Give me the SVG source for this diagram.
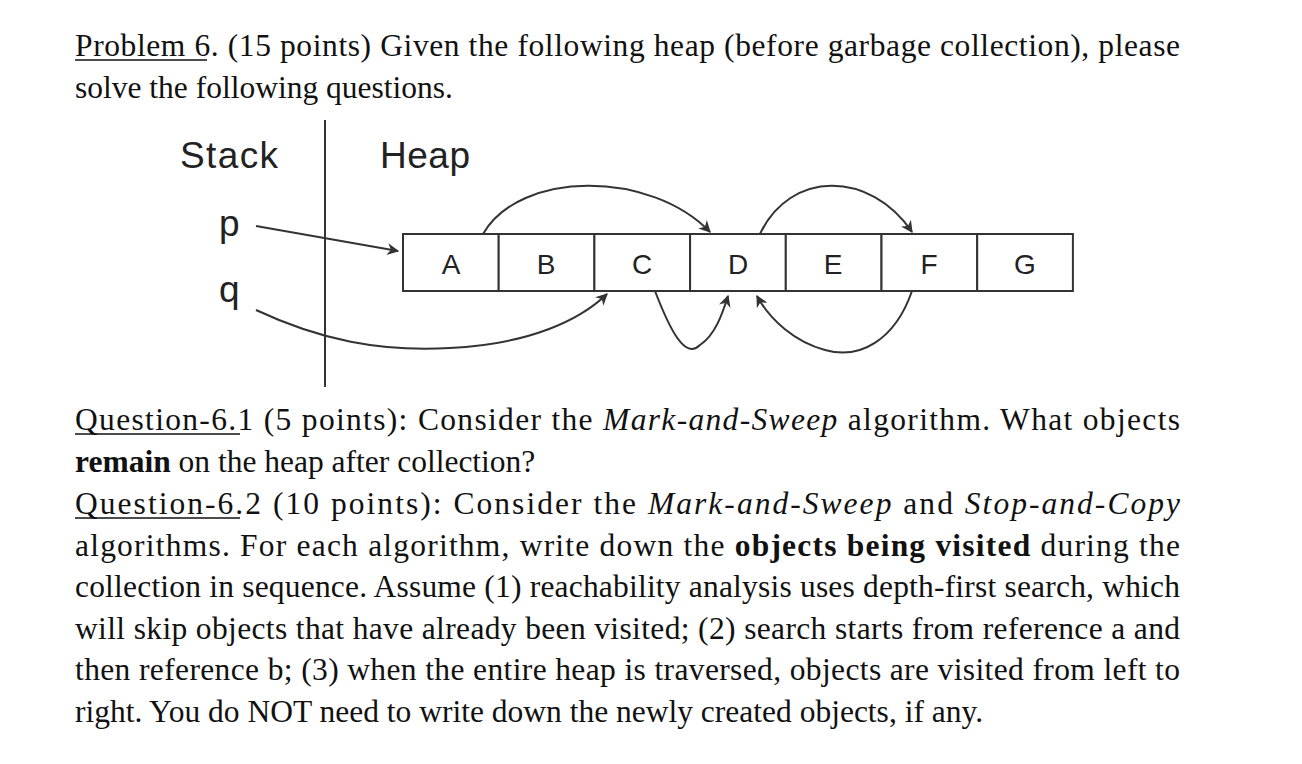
<svg xmlns="http://www.w3.org/2000/svg" width="1302" height="764" viewBox="0 0 1302 764">
<style>
.t{font-family:"Liberation Serif",serif;font-size:31.5px;fill:#111}
.s{font-family:"Liberation Sans",Arial,sans-serif;fill:#222}
.c{fill:#fff;stroke:#333;stroke-width:2}
.l{fill:none;stroke:#333;stroke-width:2}
.u{stroke:#111;stroke-width:1.5}
</style>
<defs><marker id="a" viewBox="0 0 10 10" refX="9" refY="5" markerWidth="14" markerHeight="12" orient="auto" markerUnits="userSpaceOnUse"><path d="M0,0L10,5L0,10L3,5z" fill="#333"/></marker></defs>
<rect width="1302" height="764" fill="#fff"/>
<text class="t" x="75" y="56" textLength="1105" lengthAdjust="spacing">Problem 6. (15 points) Given the following heap (before garbage collection), please</text>
<line class="u" x1="75" y1="60" x2="207" y2="60"/>
<text class="t" x="75" y="98">solve the following questions.</text>
<g id="stack"><text class="s" x="180" y="168" font-size="37" textLength="98">Stack</text>
<text class="s" x="219" y="236" font-size="37">p</text><text class="s" x="219" y="302" font-size="37">q</text></g>
<line class="l" x1="325" y1="120" x2="325" y2="387"/>
<text class="s" x="380" y="168" font-size="37" textLength="90">Heap</text>
<g id="heap" font-size="28">
<g id="A"><rect class="c" x="403" y="234" width="95.7" height="57"/><text class="s" x="451" y="274" text-anchor="middle">A</text></g>
<g id="B"><rect class="c" x="498.7" y="234" width="95.7" height="57"/><text class="s" x="546" y="274" text-anchor="middle">B</text></g>
<g id="C"><rect class="c" x="594.4" y="234" width="95.7" height="57"/><text class="s" x="642" y="274" text-anchor="middle">C</text></g>
<g id="D"><rect class="c" x="690.1" y="234" width="95.7" height="57"/><text class="s" x="738" y="274" text-anchor="middle">D</text></g>
<g id="E"><rect class="c" x="785.8" y="234" width="95.7" height="57"/><text class="s" x="833" y="274" text-anchor="middle">E</text></g>
<g id="F"><rect class="c" x="881.5" y="234" width="95.7" height="57"/><text class="s" x="929" y="274" text-anchor="middle">F</text></g>
<g id="G"><rect class="c" x="977.2" y="234" width="95.7" height="57"/><text class="s" x="1025" y="274" text-anchor="middle">G</text></g>
</g>
<g id="connectors" class="l">
<path class="l" d="M256,226 L398,251" marker-end="url(#a)"/>
<path class="l" d="M256,310 C320,340 380,352 450,348 C530,344 580,320 607,294" marker-end="url(#a)"/>
<path class="l" d="M483,234 C520,170 650,170 710,232" marker-end="url(#a)"/>
<path class="l" d="M760,234 C790,170 870,170 912,232" marker-end="url(#a)"/>
<path class="l" d="M655,291 C670,330 685,360 700,345 C715,335 722,315 728,296" marker-end="url(#a)"/>
<path class="l" d="M912,291 C895,340 860,360 825,350 C795,342 770,320 757,296" marker-end="url(#a)"/>
</g>
<text class="t" x="75" y="430" textLength="1105" lengthAdjust="spacing">Question-6.1 (5 points): Consider the <tspan font-style="italic">Mark-and-Sweep</tspan> algorithm. What objects</text>
<line class="u" x1="75" y1="434" x2="240" y2="434"/>
<text class="t" x="75" y="472"><tspan font-weight="bold">remain</tspan> on the heap after collection?</text>
<text class="t" x="75" y="514" textLength="1105" lengthAdjust="spacing">Question-6.2 (10 points): Consider the <tspan font-style="italic">Mark-and-Sweep</tspan> and <tspan font-style="italic">Stop-and-Copy</tspan></text>
<line class="u" x1="75" y1="518" x2="240" y2="518"/>
<text class="t" x="75" y="556" textLength="1105" lengthAdjust="spacing">algorithms. For each algorithm, write down the <tspan font-weight="bold">objects being visited</tspan> during the</text>
<text class="t" x="75" y="597" textLength="1105" lengthAdjust="spacing">collection in sequence. Assume (1) reachability analysis uses depth-first search, which</text>
<text class="t" x="75" y="639" textLength="1105" lengthAdjust="spacing">will skip objects that have already been visited; (2) search starts from reference a and</text>
<text class="t" x="75" y="680" textLength="1105" lengthAdjust="spacing">then reference b; (3) when the entire heap is traversed, objects are visited from left to</text>
<text class="t" x="75" y="722">right. You do NOT need to write down the newly created objects, if any.</text>
</svg>
